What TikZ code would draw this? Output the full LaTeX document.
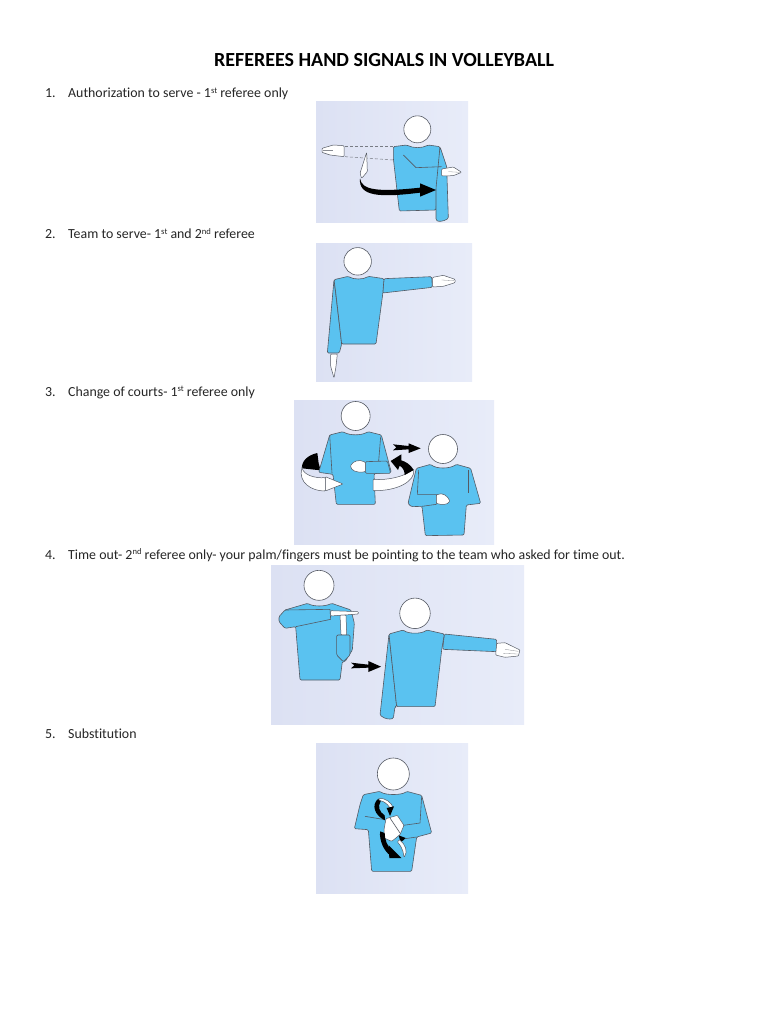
\documentclass[tikz,border=0pt]{standalone}
\usepackage{fontspec}
\setmainfont[Ligatures=NoCommon]{Carlito}
\usepackage{xcolor}
\usetikzlibrary{positioning}
\usetikzlibrary{arrows.meta}
\definecolor{panelleft}{RGB}{220,225,243}
\definecolor{panelright}{RGB}{232,236,249}
\definecolor{shirtblue}{RGB}{90,194,240}
\definecolor{linegray}{RGB}{85,90,100}
\newcommand{\ordinal}[1]{\raisebox{0.36em}{\fontsize{8.6}{9}\selectfont #1}}
\begin{document}
\begin{tikzpicture}[
    x=1pt, y=-1pt,
    heading/.style = {anchor=base, font=\fontsize{20}{24}\selectfont\bfseries, text=black, inner sep=0pt},
    number/.style = {anchor=base west, font=\fontsize{13.88}{16}\selectfont, text=black!85, inner sep=0pt},
    caption/.style = {anchor=base west, font=\fontsize{13.88}{16}\selectfont, text=black!85, inner sep=0pt},
    panel/.style = {left color=panelleft, right color=panelright, draw=none},
    shirt/.style = {fill=shirtblue, draw=linegray, line width=0.6pt, line join=round, rounded corners=1.2pt},
    seam/.style = {draw=linegray, line width=0.6pt, line join=round},
    finger/.style = {draw=linegray!70, line width=0.3pt},
    hand/.style = {fill=white, draw=linegray, line width=0.5pt, line join=round, rounded corners=0.8pt},
    ghost/.style = {draw=linegray!80, densely dashed, line width=0.5pt},
    blackbit/.style = {fill=black, draw=none},
    head/.style = {circle, fill=white, draw=linegray, line width=0.6pt, inner sep=0pt, outer sep=0pt},
  ]
  \useasboundingbox[fill=white] (0,0) rectangle (768,1024);
  \node[heading] (Title) at (384,67) {REFEREES HAND SIGNALS IN VOLLEYBALL};

  \node[number] (NumA) at (45,98) {1.};
  \node[caption] (TextA) at (68,98) {Authorization to serve - 1\ordinal{st} referee only};
  \node[number] (NumB) at (45,239) {2.};
  \node[caption] (TextB) at (68,239) {Team to serve- 1\ordinal{st} and 2\ordinal{nd} referee};
  \node[number] (NumC) at (45,396) {3.};
  \node[caption] (TextC) at (68,396) {Change of courts- 1\ordinal{st} referee only};
  \node[number] (NumD) at (45,559) {4.};
  \node[caption] (TextD) at (68,559) {Time out- 2\ordinal{nd} referee only- your palm/fingers must be pointing to the team who asked for time out.};
  \node[number] (NumE) at (45,738) {5.};
  \node[caption] (TextE) at (68,738) {Substitution};

  % signal 1
  \begin{scope}[shift={(310,95)}, scale=1/3]
    \fill[panel] (18,21) rectangle (474,384);
    \draw[shirt] (250,155) -- (290,150) .. controls (310,160) and (335,160) .. (355,150) -- (390,155) -- (385,250) -- (378,345) -- (268,348) -- (250,190) -- cycle;
    \draw[shirt] (390,155) -- (410,215) -- (415,370) .. controls (400,380) and (385,380) .. (378,375) -- (378,280) -- cycle;
    \draw[seam] (280,180) -- (318,218) -- (395,215);
    \draw[hand] (395,222) -- (430,216) -- (455,232) -- (430,242) -- (395,243) -- cycle;
    \draw[finger] (415,230) -- (450,232);
    \draw[ghost] (105,155) -- (250,155);
    \draw[ghost] (105,185) -- (250,195);
    \draw[hand] (102,152) -- (70,150) -- (36,160) -- (36,172) -- (60,180) -- (102,185) -- cycle;
    \draw[finger] (40,165) -- (70,165);
    \draw[hand] (170,172) -- (172,230) -- (155,250) -- (150,235) -- cycle;
    \fill[blackbit] (150,250) .. controls (155,285) and (200,292) .. (330,278) -- (330,265) -- (378,285) -- (330,305) -- (330,293) .. controls (210,308) and (145,305) .. (150,250) -- cycle;
    \node[head, minimum size=27pt] (HeadA) at (322,103) {};
  \end{scope}

  % signal 2
  \begin{scope}[shift={(310,238)}, scale=1/3]
    \fill[panel] (18,15) rectangle (486,429);
    \draw[shirt] (72,125) -- (52,345) -- (88,345) -- (95,318) -- cycle;
    \draw[shirt] (222,122) -- (365,116) -- (367,148) -- (218,165) -- cycle;
    \draw[shirt] (72,125) -- (115,115) .. controls (130,125) and (160,125) .. (175,115) -- (222,122) -- (218,170) -- (198,318) -- (95,318) -- (78,170) -- cycle;
    \draw[hand] (368,118) -- (400,112) -- (435,124) -- (435,134) -- (400,145) -- (368,147) -- cycle;
    \draw[finger] (395,126) -- (432,128);
    \draw[hand] (62,348) -- (82,348) -- (78,385) -- (72,420) -- (62,385) -- cycle;
    \node[head, minimum size=27.5pt] (HeadB) at (143,70) {};
  \end{scope}

  % signal 3
  \begin{scope}[shift={(288,395)}, scale=1/3]
    \fill[panel] (18,15) rectangle (618,447);
    \fill[blackbit] (88,174) .. controls (60,180) and (40,198) .. (42,220) -- (98,226) -- (92,205) -- cycle;
    \draw[hand] (42,218) .. controls (48,240) and (80,250) .. (112,248) -- (112,288) .. controls (70,288) and (30,262) .. (42,218) -- cycle;
    \draw[shirt] (125,120) -- (165,110) .. controls (185,122) and (220,122) .. (240,110) -- (280,120) -- (310,232) -- (258,236) -- (262,328) -- (145,328) -- (135,238) -- (92,232) -- cycle;
    \draw[seam] (125,120) -- (132,235);
    \draw[seam] (278,125) -- (272,198);
    \draw[hand] (112,245) -- (165,267) -- (112,288) -- cycle;
    \draw[shirt] (232,200) -- (298,198) -- (308,235) -- (232,235) -- cycle;
    \draw[hand] (232,202) .. controls (215,192) and (195,198) .. (188,212) .. controls (188,225) and (205,235) .. (232,230) -- cycle;
    % swirl
    \draw[hand] (255,253) .. controls (300,256) and (350,245) .. (377,222) .. controls (382,258) and (330,288) .. (255,287) -- cycle;
    \fill[blackbit] (377,225) .. controls (368,208) and (352,200) .. (340,196) -- (340,178) -- (308,198) -- (330,225) -- (335,212) .. controls (345,218) and (350,228) .. (350,240) -- cycle;
    \fill[blackbit] (315,148) -- (362,153) -- (362,145) -- (398,160) -- (362,174) -- (362,163) -- (315,166) -- (325,157) -- cycle;
    \draw[shirt] (385,220) -- (428,208) .. controls (445,222) and (485,222) .. (505,208) -- (548,220) -- (578,325) -- (535,330) -- (528,420) -- (412,422) -- (402,334) -- (370,335) -- (360,325) -- cycle;
    \draw[seam] (392,225) -- (388,298);
    \draw[seam] (540,225) -- (540,295);
    \draw[seam] (388,298) -- (445,298) -- (445,328) -- (402,334);
    \draw[hand] (445,300) .. controls (465,290) and (480,305) .. (485,318) .. controls (480,330) and (460,330) .. (445,325) -- cycle;
    \node[head, minimum size=29pt] (HeadC) at (203,63) {};
    \node[head, minimum size=29pt] (HeadD) at (465,162) {};
  \end{scope}

  % signal 4
  \begin{scope}[shift={(265,560)}, scale=1/3]
    \fill[panel] (18,15) rectangle (777,492);
    \draw[shirt] (60,150) -- (128,130) .. controls (145,140) and (180,140) .. (200,130) -- (258,150) -- (268,190) -- (262,270) -- (240,305) -- (232,305) -- (225,360) -- (105,360) -- (92,200) -- (60,205) -- (42,185) -- (42,170) -- cycle;
    \draw[seam] (60,150) -- (195,148) -- (197,178) -- (92,200);
    \draw[hand] (197,152) -- (280,155) -- (280,162) -- (197,168) -- cycle;
    \draw[hand] (225,165) -- (243,165) -- (245,225) -- (228,225) -- cycle;
    \draw[shirt] (215,225) -- (255,225) -- (255,285) -- (235,305) -- (215,285) -- cycle;
    \fill[blackbit] (258,308) -- (310,314) -- (310,303) -- (348,320) -- (310,336) -- (310,323) -- (258,325) -- (268,316) -- cycle;
    \draw[shirt] (372,222) -- (345,465) .. controls (360,478) and (375,478) .. (385,475) -- (390,440) -- (395,440) -- cycle;
    \draw[shirt] (538,222) -- (695,238) -- (695,275) -- (533,268) -- cycle;
    \draw[shirt] (372,222) -- (415,210) .. controls (430,222) and (470,222) .. (485,210) -- (538,222) -- (530,270) -- (510,440) -- (395,440) -- cycle;
    \draw[hand] (695,250) -- (720,248) -- (765,270) -- (760,288) -- (720,292) -- (692,285) -- cycle;
    \draw[finger] (720,268) -- (760,274);
    \draw[finger] (715,280) -- (758,282);
    \node[head, minimum size=30pt] (HeadE) at (162,76) {};
    \node[head, minimum size=30.5pt] (HeadF) at (450,160) {};
  \end{scope}

  % signal 5
  \begin{scope}[shift={(310,738)}, scale=1/3]
    \fill[panel] (18,15) rectangle (474,465);
    \draw[shirt] (160,170) -- (210,160) .. controls (225,172) and (275,172) .. (290,160) -- (335,172) -- (365,285) -- (320,297) -- (305,400) -- (185,400) -- (175,275) -- (133,272) -- (150,200) -- cycle;
    \draw[seam] (165,235) -- (225,245);
    \draw[seam] (280,262) -- (330,255) -- (335,175);
    \draw[seam] (285,302) -- (320,297);
    % upper turn
    \fill[blackbit] (205,182) .. controls (183,200) and (193,232) .. (225,247) -- (224,232) .. controls (208,222) and (202,205) .. (212,190) -- cycle;
    \draw[hand] (205,182) .. controls (225,178) and (245,195) .. (250,210) -- (240,210) .. controls (232,198) and (222,190) .. (210,188) -- cycle;
    \fill[blackbit] (252,205) -- (230,210) -- (240,234) -- cycle;
    \draw[hand] (228,242) -- (262,232) -- (282,262) -- (270,290) -- (245,310) -- (222,300) -- (222,275) -- cycle;
    \draw[seam] (240,240) -- (270,285);
    % lower turn
    \fill[blackbit] (210,280) .. controls (208,310) and (222,338) .. (240,352) -- (248,342) .. controls (232,325) and (224,305) .. (224,285) -- cycle;
    \fill[blackbit] (236,322) -- (238,360) -- (274,360) -- cycle;
    \fill[blackbit] (266,292) -- (287,300) -- (272,314) -- cycle;
    \draw[hand] (268,305) .. controls (285,318) and (295,340) .. (282,358) .. controls (280,335) and (270,320) .. (262,312) -- cycle;
    \node[head, minimum size=32pt] (HeadG) at (250,108) {};
  \end{scope}
\end{tikzpicture}
\end{document}
